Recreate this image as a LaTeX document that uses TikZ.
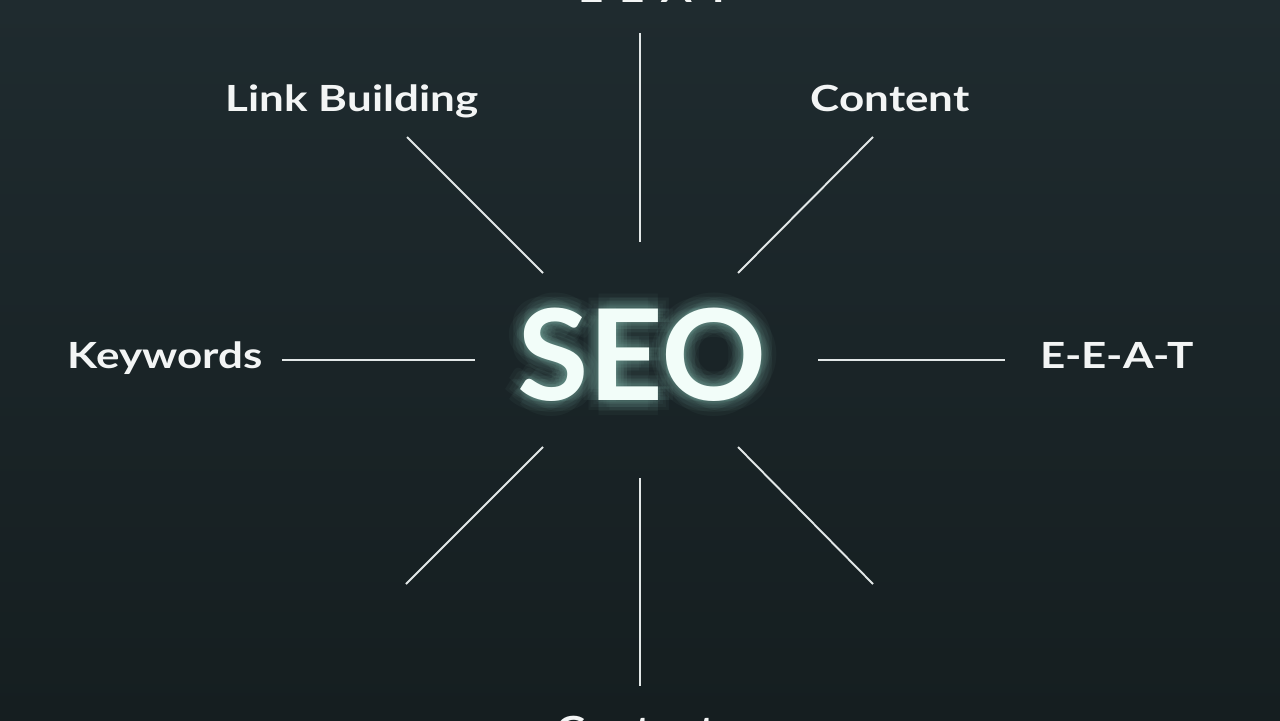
\documentclass[tikz,border=0pt]{standalone}
\usepackage{fontspec}
\setmainfont{Lato}
\usetikzlibrary{positioning}

\definecolor{bgtop}{RGB}{31,43,47}
\definecolor{bgbot}{RGB}{21,30,32}
\definecolor{glowteal}{RGB}{160,225,210}
\definecolor{spokecol}{RGB}{226,231,231}
\definecolor{topictext}{RGB}{243,245,245}
\definecolor{hubtext}{RGB}{242,253,249}

\begin{document}
\begin{tikzpicture}[x=0.02cm, y=-0.02cm,
  hub/.style={inner sep=0pt, anchor=base, text=hubtext, font=\fontsize{72}{80}\selectfont\bfseries\addfontfeature{FakeStretch=1.03}},
  hubglow/.style={hub, text=glowteal, opacity=0.04},
  topic/.style={inner sep=0pt, anchor=base, text=topictext, font=\fontsize{20.5}{24}\selectfont\bfseries\addfontfeature{FakeStretch=1.22}},
  spokeline/.style={draw=spokecol, line width=1.1pt}]

% canvas
\useasboundingbox (0,0) rectangle (1280,720);
\clip (0,0) rectangle (1280,720);
\shade[top color=bgtop, bottom color=bgbot] (0,0) rectangle (1280,720);

% glow behind the hub
\foreach \r in {3,7,11,15}
  \foreach \a in {0,45,...,315}
    \node[hubglow, shift={(\a:\r)}] at (642,400) {SEO};
\node (seo)[hub] at (642,400) {SEO};

% topics
\node (eeat-top)[topic] at (655,3) {E-E-A-T};
\node (links)[topic] at (352,111) {Link Building};
\node (content)[topic] at (890,111) {Content};
\node (keywords)[topic] at (165,368) {Keywords};
\node (eeat)[topic] at (1117,368) {E-E-A-T};
\node (content-bot)[topic] at (636,742) {Content};

% spoke ends
\coordinate (n-in) at (640,242);   \coordinate (n-out) at (640,33);
\coordinate (nw-in) at (543,273);  \coordinate (nw-out) at (407,137);
\coordinate (ne-in) at (738,273);  \coordinate (ne-out) at (873,137);
\coordinate (w-in) at (475,360);   \coordinate (w-out) at (282,360);
\coordinate (e-in) at (818,360);   \coordinate (e-out) at (1005,360);
\coordinate (sw-in) at (543,447);  \coordinate (sw-out) at (406,584);
\coordinate (se-in) at (738,447);  \coordinate (se-out) at (873,584);
\coordinate (s-in) at (640,478);   \coordinate (s-out) at (640,686);

\draw[spokeline] (n-in) -- (n-out);
\draw[spokeline] (nw-in) -- (nw-out);
\draw[spokeline] (ne-in) -- (ne-out);
\draw[spokeline] (w-in) -- (w-out);
\draw[spokeline] (e-in) -- (e-out);
\draw[spokeline] (sw-in) -- (sw-out);
\draw[spokeline] (se-in) -- (se-out);
\draw[spokeline] (s-in) -- (s-out);
\end{tikzpicture}
\end{document}
